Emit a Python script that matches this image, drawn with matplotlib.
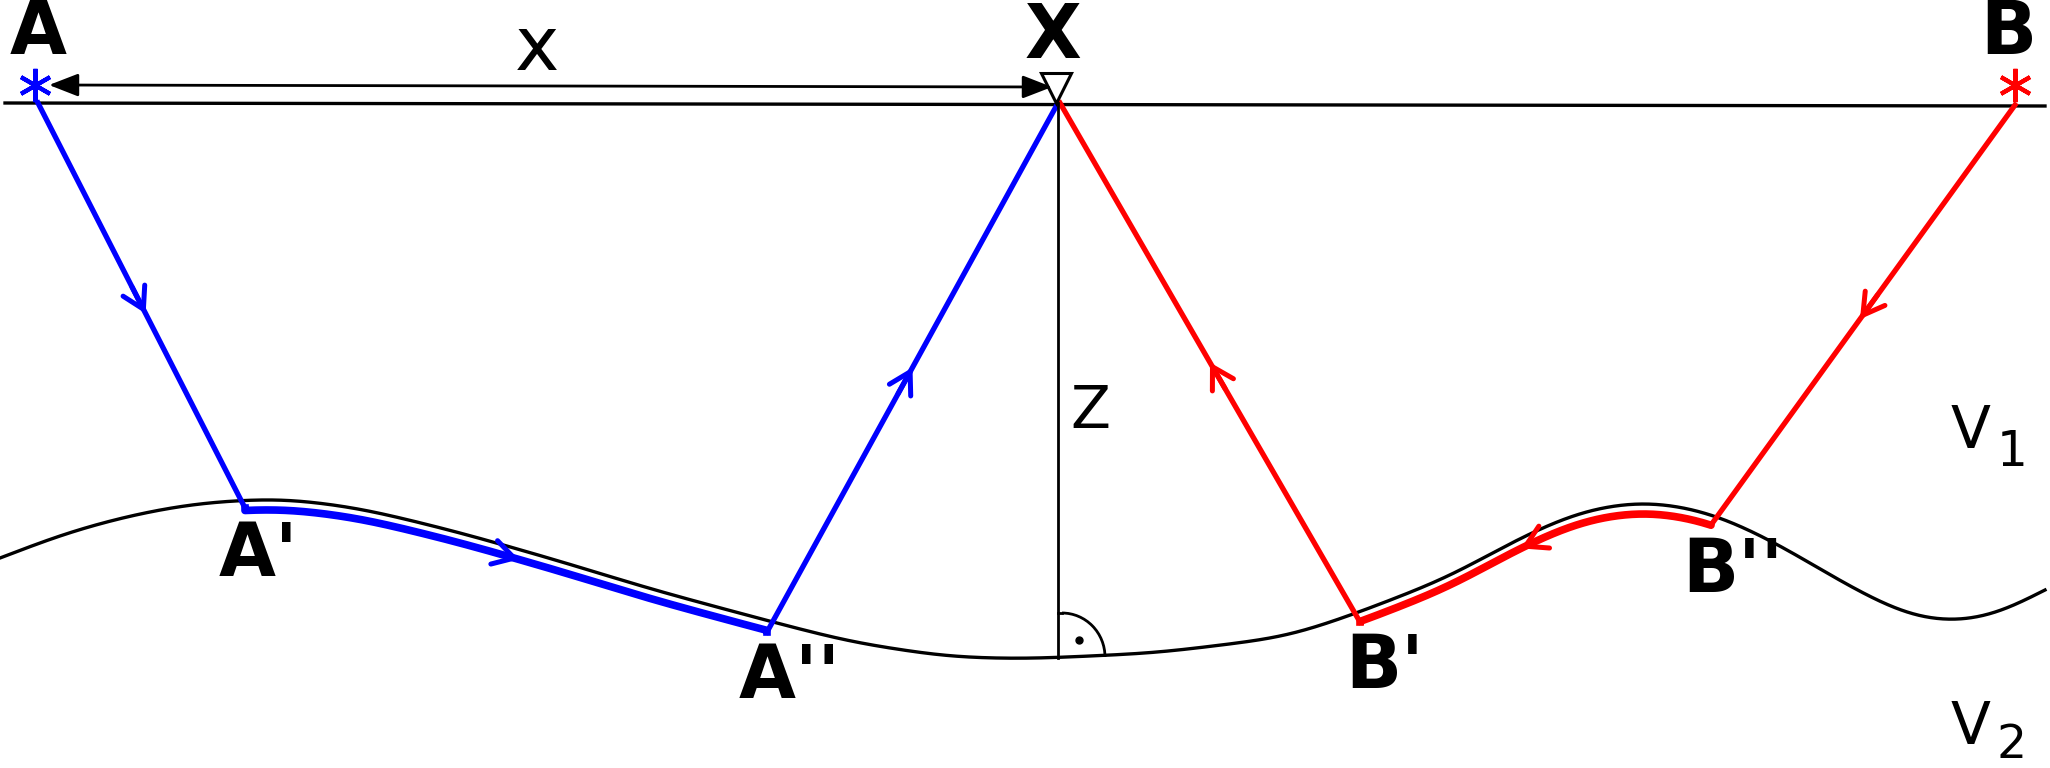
import numpy as np
import matplotlib
matplotlib.use("Agg")
import matplotlib.pyplot as plt
from matplotlib.patches import Arc

# interface curve (image pixel coords)
curve_x = [0, 65, 131, 196, 281, 360, 458, 556, 654, 765, 850, 948, 1025, 1156, 1287,
           1352, 1450, 1515, 1581, 1646, 1712, 1777, 1843, 1908, 1947, 1993, 2045]
curve_y = [558, 533, 515, 503, 498, 508, 532, 560, 590, 620, 642, 657, 659, 653, 637,
           615, 577, 540, 510, 500, 512, 543, 583, 617, 623, 618, 590]
surface_x = [5, 2045]
surface_y = [103, 106]
A_pt = (35, 85); B_pt = (2015, 85); X_pt = (1058, 103)
A1 = (245, 508); A2 = (767, 632)
B1 = (1360, 622); B2 = (1711, 525)
labels = {"A": (38, 34), "B": (2008, 34), "X": (1053, 38),
          "A'": (258, 556), "A''": (790, 677), "B'": (1385, 668), "B''": (1733, 572)}

def smooth(xs, ys, sigma=30):
    gx = np.arange(xs[0], xs[-1] + 1, 1.0)
    gy = np.interp(gx, xs, ys)
    k = np.arange(-3 * sigma, 3 * sigma + 1)
    w = np.exp(-0.5 * (k / sigma) ** 2); w /= w.sum()
    pad = len(k) // 2
    left = 2 * gy[0] - gy[1:pad + 1][::-1]
    right = 2 * gy[-1] - gy[-pad - 1:-1][::-1]
    gp = np.r_[left, gy, right]
    sy = np.convolve(gp, w, mode="valid")
    return np.c_[gx, sy]

fig = plt.figure(figsize=(20.5, 7.68), dpi=100)
ax = fig.add_axes([0, 0, 1, 1])
ax.set_xlim(0, 2050); ax.set_ylim(768, 0); ax.axis("off")

S = smooth(curve_x, curve_y)
ax.plot(S[:, 0], S[:, 1], color="black", lw=2.4)
ax.plot(surface_x, surface_y, color="black", lw=2.4)

def along(x0, x1, off=10):
    m = (S[:, 0] >= min(x0, x1)) & (S[:, 0] <= max(x0, x1))
    return S[m, 0], S[m, 1] + off

def arrow_mid(p, q, color, f=0.5):
    p = np.array(p, float); q = np.array(q, float)
    m = p + (q - p) * f
    d = (q - p) / np.linalg.norm(q - p)
    ax.annotate("", xy=m, xytext=m - d * 30,
                arrowprops=dict(arrowstyle="->,head_length=0.6,head_width=0.35", color=color, lw=3.6,
                                mutation_scale=25, shrinkA=0, shrinkB=0, capstyle="round"))

RAY = 3.8; ALONG = 5.5

# blue path
bx, by = along(A1[0], A2[0])
ax.plot([A_pt[0] + 3, A1[0]], [surface_y[0], A1[1]], color="blue", lw=RAY)
ax.plot(np.r_[A1[0], bx, A2[0]], np.r_[A1[1], by, A2[1]], color="blue", lw=ALONG)
ax.plot([A2[0], X_pt[0]], [A2[1], X_pt[1]], color="blue", lw=RAY)
arrow_mid((A_pt[0] + 3, 103), A1, "blue", 0.52)
arrow_mid(A2, X_pt, "blue", 0.5)
ii = np.argmin(abs(bx - 515)); arrow_mid((bx[ii-5], by[ii-5]), (bx[ii+5], by[ii+5]), "blue", 0.9)

# red path
rx, ry = along(B1[0], B2[0])
ax.plot([B_pt[0], B2[0]], [105, B2[1]], color="red", lw=RAY)
ax.plot(np.r_[B1[0], rx, B2[0]], np.r_[B1[1], ry, B2[1]], color="red", lw=ALONG)
ax.plot([B1[0], X_pt[0] + 2], [B1[1], X_pt[1]], color="red", lw=RAY)
arrow_mid((B_pt[0], 105), B2, "red", 0.51)
arrow_mid(B1, (X_pt[0] + 2, X_pt[1]), "red", 0.5)
ii = np.argmin(abs(rx - 1525)); arrow_mid((rx[ii+5], ry[ii+5]), (rx[ii-5], ry[ii-5]), "red", 0.9)

# vertical line and right angle
ax.plot([X_pt[0], X_pt[0]], [X_pt[1], 658], color="black", lw=2)
ax.plot([1058, 1062], [613, 613], color="black", lw=2)
ax.add_patch(Arc((1062, 657), 86, 88, theta1=-90, theta2=0, color="black", lw=2))
ax.plot([1079], [640], "o", color="black", ms=5)

# distance arrow
ax.annotate("", xy=(1052, 87), xytext=(49, 85),
            arrowprops=dict(arrowstyle="<|-|>,head_length=0.9,head_width=0.35", color="black", lw=2,
                            mutation_scale=20, shrinkA=0, shrinkB=0))

# sources and receiver
ax.plot(*A_pt, marker=(6, 2, 0), color="blue", ms=24, mew=3)
ax.plot(*B_pt, marker=(6, 2, 0), color="red", ms=24, mew=3)
ax.plot(1056, 88, marker="v", mfc="white", mec="black", ms=22, mew=2.2)

for t, (x, y) in labels.items():
    ax.text(x, y, t, fontsize=53, fontweight="bold", ha="center", va="center")
ax.text(537, 50, "x", fontsize=54, ha="center", va="center")
ax.text(1090, 411, "Z", fontsize=42, ha="center", va="center")
ax.text(1970, 431, "V", fontsize=42, ha="center", va="center")
ax.text(2012, 452, "1", fontsize=35, ha="center", va="center")
ax.text(1970, 727, "V", fontsize=42, ha="center", va="center")
ax.text(2012, 746, "2", fontsize=34, ha="center", va="center")

fig.savefig("out.png", dpi=100)
